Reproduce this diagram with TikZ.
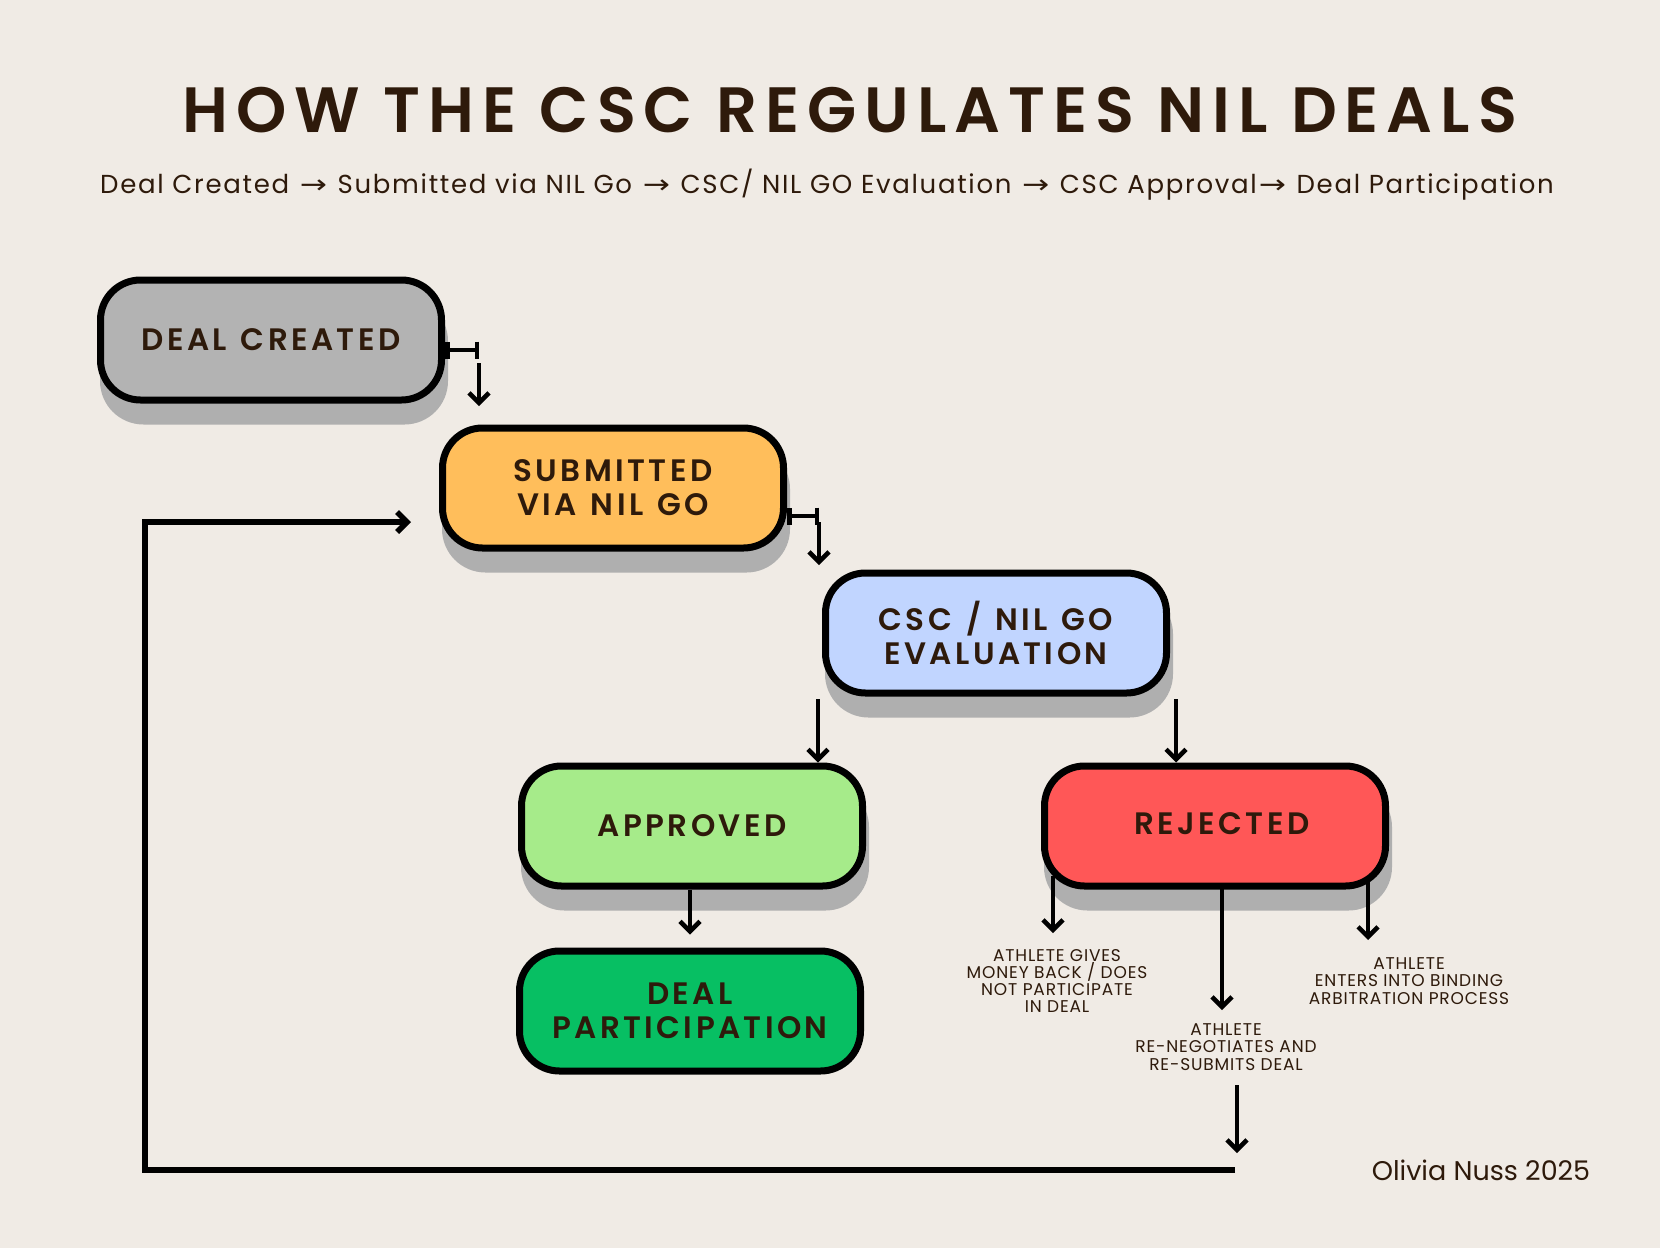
\documentclass[tikz,border=0pt]{standalone}
\usepackage{fontspec}
\setmainfont{Poppins}
\newfontfamily\boxfont{Poppins SemiBold}[LetterSpace=11,WordSpace=1.3]
\newfontfamily\titlefont{Poppins SemiBold}[LetterSpace=12.5]
\newfontfamily\arrowfont{DejaVu Sans}
\usetikzlibrary{arrows.meta,calc}
\definecolor{bg}{HTML}{F0EBE5}
\definecolor{ink}{HTML}{2E1A0B}
\definecolor{shade}{HTML}{AFAFAF}
\definecolor{cgray}{HTML}{B3B3B3}
\definecolor{corange}{HTML}{FFBE5B}
\definecolor{cblue}{HTML}{C1D5FF}
\definecolor{clgreen}{HTML}{A6EB8A}
\definecolor{cred}{HTML}{FF5757}
\definecolor{cgreen}{HTML}{07BF63}
\newcommand\subarr{\hspace{2pt}{\arrowfont\scalebox{1.25}[1]{→}}\hspace{2pt}}
\tikzset{
  box/.style={draw=black, line width=7pt, rounded corners=40pt, minimum width=341pt, minimum height=120pt,
    inner sep=0pt, align=center, text=ink,
    font=\fontsize{31}{34}\selectfont\boxfont},
  shadowed/.style={preaction={fill=shade, draw=shade, transform canvas={shift={(3pt,-21pt)}}}},
  arr/.style={draw=black, line width=4.5pt, -{Straight Barb[length=10pt,width=20pt]}},
  bars/.style={draw=black, line width=4.5pt, {Bar[width=17pt]}-{Bar[width=17pt]}},
  lbl/.style={text=ink, align=center, inner sep=0pt,
    font=\fontsize{17}{17.3}\selectfont\addfontfeatures{LetterSpace=5}},
}
\begin{document}
\begin{tikzpicture}[x=1pt,y=-1pt]
\fill[bg] (0,0) rectangle (1660,1248);
\useasboundingbox (0,0) rectangle (1660,1248);

% titles
\node[text=ink, inner sep=0pt, font=\fontsize{64}{70}\selectfont\titlefont] (title) at (850,110) {HOW THE CSC REGULATES NIL DEALS};
\node[text=ink, inner sep=0pt, anchor=base, font=\fontsize{26}{30}\selectfont\addfontfeatures{LetterSpace=6.5}] (subtitle) at (827,193)
  {Deal Created \subarr{} Submitted via NIL Go \subarr{} CSC/ NIL GO Evaluation \subarr{} CSC Approval\subarr{} Deal Participation};

% boxes
\node[box, fill=cgray, shadowed] (dc) at (271,340) {DEAL CREATED};
\node[box, fill=corange, shadowed] (sub) at (613,488) {SUBMITTED\\VIA NIL GO};
\node[box, fill=cblue, shadowed] (csc) at (996,633) {CSC / NIL GO\\EVALUATION};
\node[box, fill=clgreen, shadowed] (app) at (692,826) {APPROVED};
\node[box, fill=cred, shadowed] (rej) at (1215,826) {\hspace{14pt}\raisebox{4pt}{REJECTED}};
\node[box, fill=cgreen] (dp) at (690,1011) {DEAL\\PARTICIPATION};

% outcome labels
\node[lbl] (o1) at (1057,981) {ATHLETE GIVES\\MONEY BACK / DOES\\NOT PARTICIPATE\\IN DEAL};
\node[lbl] (o2) at (1226,1047) {ATHLETE\\RE-NEGOTIATES AND\\RE-SUBMITS DEAL};
\node[lbl] (o3) at (1409,981) {ATHLETE\\ENTERS INTO BINDING\\ARBITRATION PROCESS};

\node[text=ink, inner sep=0pt, anchor=base, font=\fontsize{27}{30}\selectfont] (sig) at (1481,1180) {Olivia Nuss 2025};

% connectors
\coordinate (j1) at ($(dc.east)+(34,10)$);
\draw[bars] ($(dc.east)+(0,10)$) -- (j1);
\draw[arr] ($(j1)+(0,13)$) -- ($(j1)+(0,56)$);

\coordinate (j2) at ($(sub.east)+(32,28)$);
\draw[bars] ($(sub.east)+(0,28)$) -- (j2);
\draw[arr] ($(j2)+(0,6)$) -- ($(j2)+(0,49)$);

\draw[arr] (818,699) -- (app.north -| 818,0);
\draw[arr] (1176,699) -- (rej.north -| 1176,0);
\draw[arr] (app.south -| dp.north) -- ($(dp.north)+(0,-13)$);

\draw[arr] (1053,876) -- (1053,933);
\draw[arr] (1222,889) -- (1222,1010);
\draw[arr] (1368,880) -- (1368,940);

\coordinate (r0) at (1237,1085);
\coordinate (l0) at (1235,1170);
\draw[arr] (r0) -- ++(0,68);
\draw[arr, line width=5.5pt] (l0) -- (145,1170) -- (145,522) -- ($(sub.west)+(-28,34)$);
\end{tikzpicture}
\end{document}
